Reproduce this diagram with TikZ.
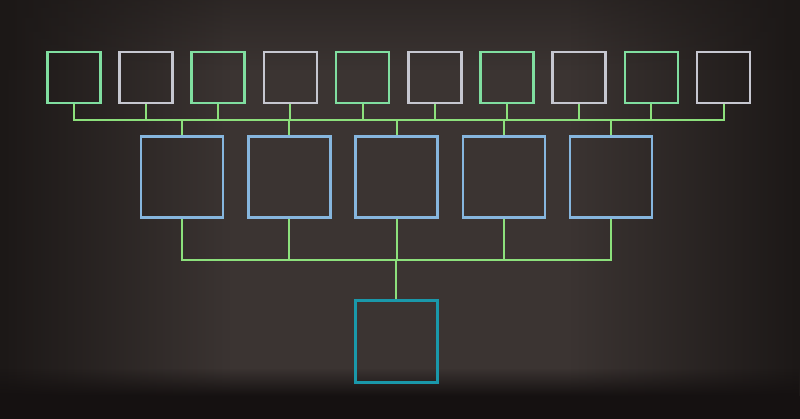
\documentclass[tikz,border=0pt]{standalone}
\usetikzlibrary{fadings}
\definecolor{bgbase}{HTML}{3B3432}
\definecolor{bgedge}{HTML}{1C1817}
\definecolor{bgfloor}{HTML}{151111}
\definecolor{gbox}{HTML}{80DEA0}
\definecolor{sbox}{HTML}{C6C7D0}
\definecolor{bbox}{HTML}{86B6DE}
\definecolor{tbox}{HTML}{1A98AA}
\definecolor{link}{HTML}{8CE07C}
\tikzfading[name=fadeup, top color=transparent!100, bottom color=transparent!0]
\tikzfading[name=fadedown, top color=transparent!0, bottom color=transparent!100]
\tikzfading[name=fadeleftopaque, left color=transparent!0, right color=transparent!100]
\tikzfading[name=faderightopaque, left color=transparent!100, right color=transparent!0]
\tikzset{
  box/.style={draw, line width=2.5pt, inner sep=0pt},
  smallbox/.style={box, minimum width=53pt, minimum height=51pt},
  midbox/.style={box, bbox, minimum width=82pt, minimum height=81pt},
  rootbox/.style={box, tbox, minimum width=82pt, minimum height=82pt},
  conn/.style={draw=link, line width=2pt},
}
\begin{document}
\begin{tikzpicture}[x=1pt, y=-1pt]
\useasboundingbox (0,0) rectangle (800,419);
\fill[bgbase] (0,0) rectangle (800,419);
\fill[bgedge, path fading=fadeleftopaque] (0,0) rectangle (230,419);
\fill[bgedge, path fading=faderightopaque] (570,0) rectangle (800,419);
\fill[bgedge, opacity=0.45, path fading=fadedown] (0,0) rectangle (800,70);
\fill[bgfloor, path fading=fadeup] (0,368) rectangle (800,396);
\fill[bgfloor] (0,396) rectangle (800,419);
% top row
\foreach \i/\c in {1/gbox,2/sbox,3/gbox,4/sbox,5/gbox,6/sbox,7/gbox,8/sbox,9/gbox,10/sbox}{
  \node[smallbox, \c] (t\i) at ({73.8+72.2*(\i-1)}, 77.5) {};
}
% middle row
\foreach \j in {1,...,5}{
  \node[midbox] (m\j) at ({182.2+107.2*(\j-1)}, 177.2) {};
}
% root
\node[rootbox] (b) at (396.4, 341.7) {};
% buses
\coordinate (busT) at (0,120);
\coordinate (busB) at (0,260);
\foreach \i in {1,...,10}{
  \draw[conn] (t\i.south) -- (t\i.south |- busT);
}
\draw[conn, line cap=rect] (t1.south |- busT) -- (t10.south |- busT);
\foreach \j in {1,...,5}{
  \draw[conn] (m\j.north) -- (m\j.north |- busT);
  \draw[conn] (m\j.south) -- (m\j.south |- busB);
}
\draw[conn, line cap=rect] (m1.south |- busB) -- (m5.south |- busB);
\draw[conn] (b.north) -- (b.north |- busB);
\end{tikzpicture}
\end{document}
